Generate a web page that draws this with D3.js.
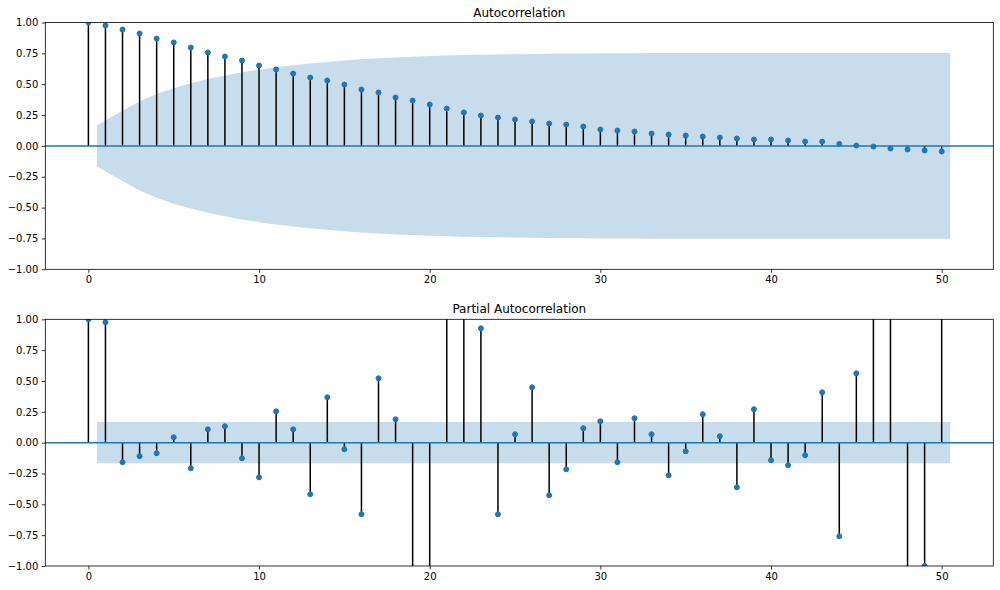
<!DOCTYPE html>
<html><head><meta charset="utf-8">
<script src="https://cdn.jsdelivr.net/npm/d3@7"></script>
<style>body{margin:0;background:#fff} svg text{font-family:"DejaVu Sans",sans-serif;fill:#000}</style>
</head><body><svg id="c" width="1000" height="590"></svg>
<script>
const lags = [0,1,2,3,4,5,6,7,8,9,10,11,12,13,14,15,16,17,18,19,20,21,22,23,24,25,26,27,28,29,30,31,32,33,34,35,36,37,38,39,40,41,42,43,44,45,46,47,48,49,50];
const acfValues = [1.000,0.976,0.943,0.911,0.870,0.838,0.797,0.757,0.724,0.692,0.651,0.619,0.586,0.554,0.530,0.497,0.457,0.433,0.392,0.368,0.335,0.303,0.271,0.246,0.230,0.214,0.198,0.181,0.173,0.157,0.133,0.125,0.117,0.100,0.092,0.084,0.076,0.068,0.060,0.052,0.052,0.044,0.035,0.035,0.016,0.003,-0.005,-0.021,-0.029,-0.037,-0.045];
// confidence half-width for lags 1..50
const acfBand = [0.167,0.285,0.361,0.421,0.468,0.508,0.542,0.571,0.596,0.618,0.637,0.653,0.668,0.680,0.692,0.702,0.710,0.717,0.723,0.728,0.733,0.736,0.739,0.741,0.743,0.745,0.746,0.748,0.749,0.750,0.751,0.751,0.752,0.752,0.752,0.753,0.753,0.753,0.753,0.753,0.753,0.753,0.753,0.753,0.753,0.753,0.753,0.753,0.753,0.753];
const pacfValues = [1.000,0.976,-0.159,-0.110,-0.086,0.044,-0.208,0.108,0.133,-0.127,-0.281,0.254,0.108,-0.419,0.368,-0.054,-0.581,0.522,0.189,-1.600,-1.300,1.400,1.250,0.927,-0.581,0.068,0.449,-0.427,-0.216,0.117,0.173,-0.159,0.198,0.068,-0.265,-0.070,0.230,0.052,-0.362,0.271,-0.143,-0.183,-0.102,0.408,-0.759,0.562,1.500,1.300,-1.400,-1.000,1.020];
const pacfBand = [0.167,0.167,0.167,0.167,0.167,0.167,0.167,0.167,0.167,0.167,0.167,0.167,0.167,0.167,0.167,0.167,0.167,0.167,0.167,0.167,0.167,0.167,0.167,0.167,0.167,0.167,0.167,0.167,0.167,0.167,0.167,0.167,0.167,0.167,0.167,0.167,0.167,0.167,0.167,0.167,0.167,0.167,0.167,0.167,0.167,0.167,0.167,0.167,0.167,0.167];
const titles = ["Autocorrelation","Partial Autocorrelation"];
const xTicks = [0,10,20,30,40,50];
const yTicks = [-1,-0.75,-0.5,-0.25,0,0.25,0.5,0.75,1];
const xDomain = [-2.525, 53.025];
const yDomain = [-1, 1];

const C0 = "#1f77b4";
const svg = d3.select("#c");
const left = 45.3, right = 993.3;
const x = d3.scaleLinear().domain(xDomain).range([left, right]);

const panels = [
  {title: titles[0], values: acfValues, band: acfBand, top: 22.5, bottom: 269.3},
  {title: titles[1], values: pacfValues, band: pacfBand, top: 319.3, bottom: 566}
];

panels.forEach((p, i) => {
  const y = d3.scaleLinear().domain(yDomain).range([p.bottom, p.top]);
  const g = svg.append("g");
  const cid = "clip" + i;
  svg.append("clipPath").attr("id", cid).append("rect")
    .attr("x", left).attr("y", p.top).attr("width", right - left).attr("height", p.bottom - p.top);
  const plot = g.append("g").attr("clip-path", `url(#${cid})`);

  // band: lags 1..50 with the first shifted -0.5 and the last +0.5
  const bandLags = lags.slice(1).map((l, k, arr) => k === 0 ? l - 0.5 : (k === arr.length - 1 ? l + 0.5 : l));
  const bandData = bandLags.map((l, k) => ({l, w: p.band[k]}));
  plot.append("path").datum(bandData)
    .attr("d", d3.area().x(d => x(d.l)).y0(d => y(-d.w)).y1(d => y(d.w)))
    .attr("fill", C0).attr("fill-opacity", 0.25);

  plot.selectAll("line.stem").data(lags).join("line").attr("class", "stem")
    .attr("x1", d => x(d)).attr("x2", d => x(d))
    .attr("y1", y(0)).attr("y2", (d, k) => y(p.values[k]))
    .attr("stroke", "#000").attr("stroke-width", 1.5);

  plot.append("line").attr("x1", left).attr("x2", right).attr("y1", y(0)).attr("y2", y(0))
    .attr("stroke", C0).attr("stroke-width", 1.5);

  plot.selectAll("circle").data(lags).join("circle")
    .attr("cx", d => x(d)).attr("cy", (d, k) => y(p.values[k])).attr("r", 2.5)
    .attr("fill", C0).attr("stroke", C0).attr("stroke-width", 1);

  const xa = g.append("g").attr("transform", `translate(0,${p.bottom})`)
    .call(d3.axisBottom(x).tickValues(xTicks).tickSize(3.5).tickPadding(3.5).tickFormat(d3.format("d")));
  const ya = g.append("g").attr("transform", `translate(${left},0)`)
    .call(d3.axisLeft(y).tickValues(yTicks).tickSize(3.5).tickPadding(3.5).tickFormat(d3.format(".2f")));
  [xa, ya].forEach(a => {
    a.select(".domain").remove();
    a.selectAll(".tick line").attr("stroke", "#000").attr("stroke-width", 0.8);
    a.selectAll(".tick text").attr("font-size", 10).attr("font-family", "DejaVu Sans").attr("fill", "#000");
  });

  g.append("rect").attr("x", left).attr("y", p.top).attr("width", right - left).attr("height", p.bottom - p.top)
    .attr("fill", "none").attr("stroke", "#000").attr("stroke-width", 0.8);

  g.append("text").attr("x", (left + right) / 2).attr("y", p.top - 6)
    .attr("text-anchor", "middle").attr("font-size", 12).text(p.title);
});
</script></body></html>
